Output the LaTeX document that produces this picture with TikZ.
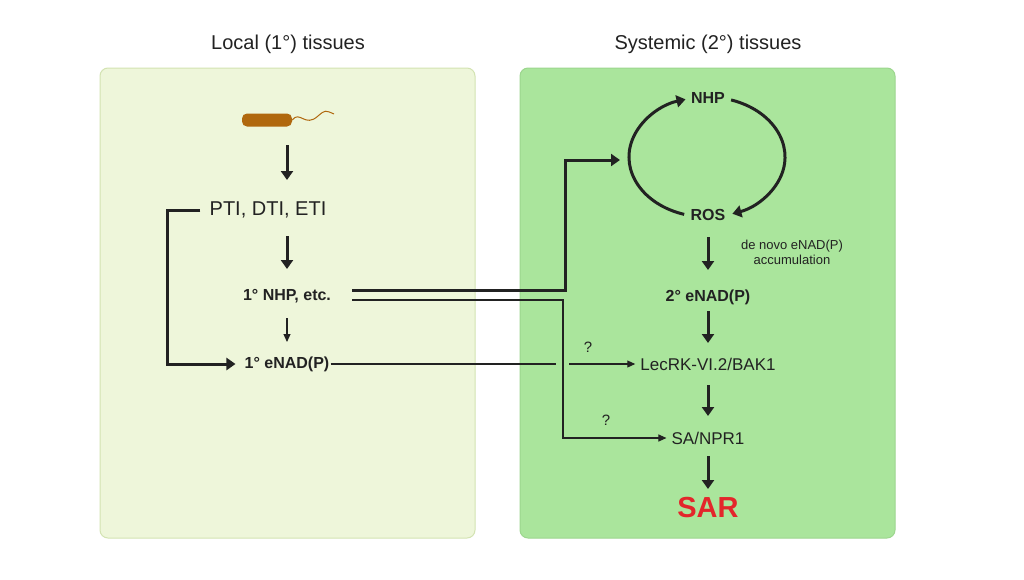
\documentclass[tikz,border=0pt]{standalone}
\usepackage{fontspec}
\setmainfont{Liberation Sans}
\usetikzlibrary{arrows.meta}
\definecolor{lbox}{HTML}{EEF6DA}
\definecolor{lbord}{HTML}{D3E3B2}
\definecolor{rbox}{HTML}{AAE59C}
\definecolor{rbord}{HTML}{9CD68E}
\definecolor{ink}{HTML}{222222}
\definecolor{sar}{HTML}{E3262B}
\definecolor{bact}{HTML}{B0680E}
\begin{document}
\begin{tikzpicture}[x=1pt,y=-1pt,
 bigarr/.style={line width=3pt,draw=ink,-{Triangle[length=9pt,width=12pt]}},
 smallarr/.style={line width=1.1pt,draw=ink,-{Triangle[length=8pt,width=7pt]}},
 lbl/.style={font=\fontsize{17}{19}\selectfont,text=ink,inner sep=1pt},
 blbl/.style={font=\fontsize{16}{18}\selectfont\bfseries,text=ink,inner sep=1pt}]
\useasboundingbox (0,0) rectangle (1024,579);
\fill[white] (0,0) rectangle (1024,579);
\draw[fill=lbox,draw=lbord,line width=1pt,rounded corners=8pt] (100,68) rectangle (475,538);
\draw[fill=rbox,draw=rbord,line width=1pt,rounded corners=8pt] (520,68) rectangle (895,538);
\node[font=\fontsize{20}{22}\selectfont,text=ink] (tl) at (288,44) {Local (1°) tissues};
\node[font=\fontsize{20}{22}\selectfont,text=ink] (tr) at (708,44) {Systemic (2°) tissues};
% bacterium
\node[fill=bact,rounded corners=5pt,minimum width=50pt,minimum height=13pt,inner sep=0pt] (bac) at (267,120) {};
\draw[bact,line width=1pt] (bac.east) .. controls (300,110) and (305,128) .. (318,116) .. controls (325,110) .. (334,114);
\node[font=\fontsize{20}{22}\selectfont,text=ink,inner sep=1pt] (pti) at (268,210) {PTI, DTI, ETI};
\node[blbl] (nhp1) at (287,296) {1° NHP, etc.};
\node[blbl] (enad1) at (287,364) {1° eNAD(P)};
\draw[bigarr] (287,145) -- (287,180);
\draw[bigarr] (287,236) -- (287,269);
\draw[smallarr] (287,318) -- (287,342);
\draw[bigarr,shorten <=8pt,shorten >=8pt] (pti.west) -- (167,210) -- (167,364) -- (enad1.west);
% right column
\node[blbl] (nhp) at (708,98) {NHP};
\node[blbl] (ros) at (708,215) {ROS};
\coordinate (ls) at ({707+78*cos(-107)},{157-60*sin(-107)});
\coordinate (rs) at ({707+78*cos(72)},{157-60*sin(72)});
\draw[bigarr] (ls) arc[start angle=-107,end angle=-254,x radius=78pt,y radius=60pt];
\draw[bigarr] (rs) arc[start angle=72,end angle=-71,x radius=78pt,y radius=60pt];
\node[blbl] (enad2) at (708,297) {2° eNAD(P)};
\node[lbl] (lec) at (708,364) {LecRK-VI.2/BAK1};
\node[lbl] (sa) at (708,438) {SA/NPR1};
\node[font=\fontsize{29}{31}\selectfont\bfseries,text=sar] (sarn) at (708,508) {SAR};
\node[font=\fontsize{13}{15}\selectfont,text=ink,align=center,inner sep=1pt] (dn) at (792,252) {de novo eNAD(P)\\accumulation};
\draw[bigarr] (708,237) -- (708,270);
\draw[bigarr] (708,311) -- (708,343);
\draw[bigarr] (708,385) -- (708,416);
\draw[bigarr] (708,456) -- (708,489);
% connectors
\coordinate (c1) at (565,290);
\coordinate (c2) at (620,160);
\draw[bigarr] (352,290) -- (c1) |- (c2);
\draw[smallarr] (352,300) -- (563,300) |- ([xshift=-4pt]sa.west);
\draw[line width=1.1pt,ink] (enad1.east) -- (556,364);
\draw[smallarr] (569,364) -- ([xshift=-4pt]lec.west);
\node[lbl,font=\fontsize{15}{17}\selectfont] (q1) at (588,347) {?};
\node[lbl,font=\fontsize{15}{17}\selectfont] (q2) at (606,420) {?};
\end{tikzpicture}
\end{document}
